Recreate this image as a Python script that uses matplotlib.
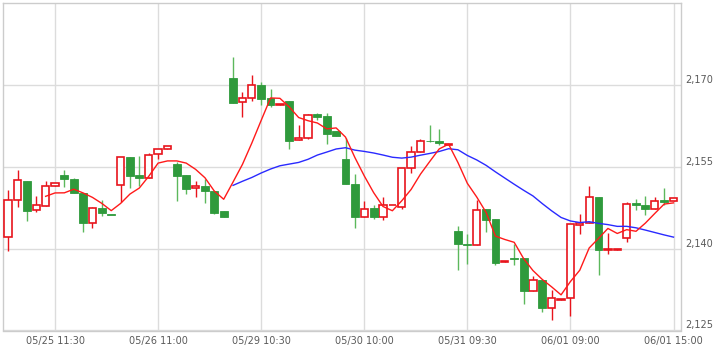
import numpy as np
import pandas as pd
import matplotlib
matplotlib.use("Agg")
import matplotlib.pyplot as plt

# OHLC per 30-min bar
opens = [2142.1, 2148.9, 2152.4, 2147.1, 2147.8, 2151.5, 2153.4, 2152.8, 2150.2, 2144.7,
         2147.4, 2146.2, 2151.7, 2156.8, 2153.4, 2152.9, 2157.3, 2158.3, 2155.4, 2153.4,
         2151.0, 2151.5, 2150.6, 2146.8, 2171.3, 2166.8, 2167.6, 2170.0, 2167.6, 2166.3,
         2167.0, 2159.8, 2160.2, 2164.6, 2164.2, 2161.5, 2156.3, 2151.9, 2145.7, 2147.4,
         2145.7, 2147.9, 2147.6, 2154.8, 2157.7, 2159.7, 2159.7, 2159.0, 2143.3, 2140.9,
         2140.6, 2147.2, 2145.4, 2137.5, 2138.2, 2138.2, 2132.3, 2134.3, 2129.2, 2130.6,
         2130.9, 2144.4, 2144.6, 2149.5, 2139.8, 2139.8, 2142.0, 2148.3, 2148.0, 2147.3,
         2148.8, 2148.7]
highs = [2150.7, 2154.4, 2152.4, 2149.7, 2152.3, 2152.0, 2154.3, 2153.0, 2150.2, 2147.6,
         2148.8, 2146.2, 2156.7, 2156.8, 2157.0, 2157.4, 2158.2, 2158.7, 2155.8, 2153.4,
         2152.4, 2152.8, 2150.6, 2146.8, 2175.1, 2168.6, 2171.7, 2170.4, 2169.2, 2166.4,
         2167.0, 2162.7, 2164.6, 2164.9, 2164.9, 2161.5, 2160.3, 2153.6, 2148.7, 2148.0,
         2149.4, 2148.0, 2154.8, 2158.7, 2160.0, 2162.7, 2161.9, 2159.1, 2144.2, 2142.7,
         2148.8, 2147.2, 2145.4, 2137.8, 2140.9, 2138.2, 2135.0, 2134.3, 2132.4, 2130.8,
         2144.5, 2146.4, 2151.4, 2149.5, 2142.9, 2139.9, 2148.5, 2149.0, 2149.6, 2149.5,
         2151.0, 2149.3]
lows = [2139.6, 2147.6, 2145.0, 2146.6, 2147.8, 2151.5, 2151.2, 2150.1, 2143.0, 2143.8,
        2146.0, 2146.1, 2148.5, 2151.1, 2151.5, 2152.9, 2156.4, 2158.3, 2148.7, 2150.0,
        2149.4, 2148.3, 2146.3, 2145.7, 2166.6, 2164.1, 2167.0, 2166.3, 2166.0, 2166.3,
        2158.3, 2159.8, 2160.0, 2163.5, 2159.2, 2160.6, 2151.8, 2143.8, 2145.7, 2145.4,
        2145.2, 2147.9, 2147.3, 2153.8, 2157.6, 2159.5, 2159.0, 2159.0, 2136.1, 2137.1,
        2140.6, 2143.0, 2136.9, 2137.5, 2137.0, 2129.8, 2132.2, 2128.3, 2126.9, 2130.6,
        2127.6, 2142.6, 2144.6, 2135.1, 2139.0, 2139.8, 2141.2, 2147.1, 2146.1, 2147.3,
        2147.9, 2148.7]
closes = [2148.9, 2152.6, 2146.8, 2148.0, 2151.5, 2152.0, 2152.7, 2150.1, 2144.6, 2147.4,
          2146.5, 2146.1, 2156.7, 2153.2, 2152.9, 2157.2, 2158.2, 2158.7, 2153.2, 2150.9,
          2151.5, 2150.5, 2146.5, 2145.7, 2166.7, 2167.6, 2170.0, 2167.3, 2166.2, 2166.4,
          2159.7, 2160.3, 2164.4, 2164.1, 2161.0, 2160.6, 2151.9, 2145.7, 2147.3, 2145.7,
          2147.9, 2148.0, 2154.8, 2157.7, 2159.7, 2159.6, 2159.4, 2159.1, 2140.9, 2140.7,
          2147.1, 2145.3, 2137.4, 2137.8, 2138.1, 2132.3, 2134.3, 2129.2, 2131.0, 2130.8,
          2144.5, 2144.7, 2149.5, 2139.8, 2139.9, 2139.9, 2148.2, 2148.0, 2147.3, 2148.7,
          2148.5, 2149.3]

tick_pos = [5, 16, 27, 38, 49, 60, 71]
tick_labels = ["05/25 11:30", "05/26 11:00", "05/29 10:30", "05/30 10:00",
               "05/31 09:30", "06/01 09:00", "06/01 15:00"]
y_ticks = [2125, 2140, 2155, 2170]

df = pd.DataFrame({"open": opens, "high": highs, "low": lows, "close": closes})
df["ma5"] = df["close"].rolling(5).mean()
df["ma25"] = df["close"].rolling(25).mean()
x = np.arange(len(df))

RED = "#e8141c"
GREEN = "#2f9a3c"
GREEN_WICK = "#5cb85c"

fig = plt.figure(figsize=(7.19, 3.52), dpi=100)
ax = fig.add_axes([3 / 719, 21.5 / 352, 678 / 719, 327.8 / 352])

up = df["close"] >= df["open"]
dn = ~up

ax.vlines(x[up], df["low"][up], df["high"][up], color=RED, lw=1, zorder=2)
ax.vlines(x[dn], df["low"][dn], df["high"][dn], color=GREEN_WICK, lw=1, zorder=2)

body_lo = np.minimum(df["open"], df["close"])
body_h = np.maximum((df["close"] - df["open"]).abs(), 0.15)
ax.bar(x[up], body_h[up], bottom=body_lo[up], width=0.78, facecolor="white",
       edgecolor=RED, linewidth=1.2, zorder=3)
ax.bar(x[dn], body_h[dn], bottom=body_lo[dn], width=0.84, facecolor=GREEN,
       edgecolor=GREEN, linewidth=0.6, zorder=3)

ax.plot(x, df["ma25"], color="#2a2aff", lw=1, zorder=4)
ax.plot(x, df["ma5"], color="#ff1a1a", lw=1, zorder=5)

ax.set_xlim(-0.55, 71.8)
ax.set_ylim(2125, 2185)

ax.set_xticks(tick_pos)
ax.set_xticklabels(tick_labels)
ax.set_yticks(y_ticks)
ax.set_yticklabels([f"{v:,}" for v in y_ticks])
ax.yaxis.tick_right()
for lbl in ax.get_yticklabels():
    lbl.set_verticalalignment("bottom")
ax.tick_params(axis="both", length=0, labelsize=7, labelcolor="#5a5a5a")
ax.tick_params(axis="x", pad=4)
ax.tick_params(axis="y", pad=3)

ax.grid(True, color="#dcdcdc", lw=1)
ax.set_axisbelow(True)
for s in ax.spines.values():
    s.set_color("#cccccc")
    s.set_linewidth(1)

fig.savefig("out.png", dpi=100)
